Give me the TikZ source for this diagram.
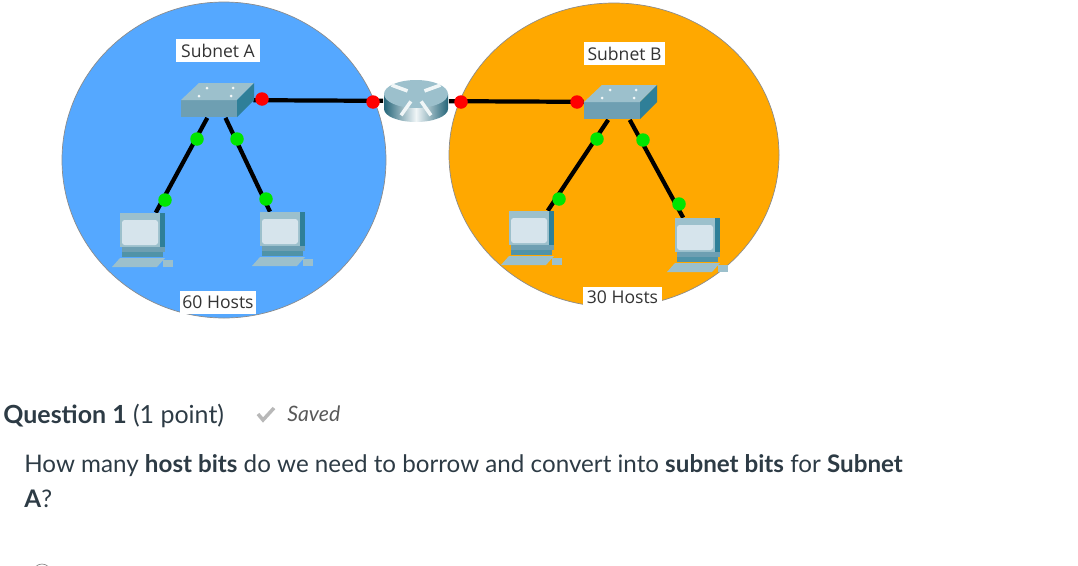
\documentclass[tikz,border=0pt]{standalone}
\usepackage{fontspec}
\setmainfont{Lato}
\newfontfamily\labelfont{Open Sans}
\usetikzlibrary{positioning}
\definecolor{subnetblue}{HTML}{55A8FF}
\definecolor{subnetorange}{HTML}{FFA800}
\definecolor{devtop}{HTML}{9CC0CC}
\definecolor{devfront}{HTML}{6E9FB2}
\definecolor{devside}{HTML}{2F7F98}
\definecolor{devscreen}{HTML}{D6E4EC}
\definecolor{txtdark}{HTML}{2D3B45}
\tikzset{
  subnet/.style={draw=black!45,line width=0.4pt},
  link/.style={draw=black,line width=2.4pt},
  reddot/.style={circle,fill=red,inner sep=0pt,minimum size=0.27cm},
  greendot/.style={circle,fill=green!90!black,inner sep=0pt,minimum size=0.27cm},
  labelbox/.style={fill=white,inner sep=0pt,text=black!80,font=\labelfont\fontsize{10}{12}\selectfont},
  switchnode/.style={inner sep=0pt,minimum width=1.44cm,minimum height=0.7cm},
  routernode/.style={inner sep=0pt,minimum width=1.3cm,minimum height=0.86cm},
  pcnode/.style={inner sep=0pt,minimum width=0.9cm,minimum height=1cm},
  question/.style={anchor=base west,inner sep=0pt,text=txtdark,font=\fontsize{13.77}{16}\selectfont},
  switchicon/.pic={
    \fill[devfront] (-36,0) rectangle (20,17);
    \fill[devtop] (-36,0) -- (-18,-17) -- (37,-17) -- (20,0) -- cycle;
    \fill[devside] (20,0) -- (37,-17) -- (37,0) -- (20,17) -- cycle;
    \foreach \px/\py in {-10/-12,16/-12,-18/-4,14/-4}
      \fill[white!90!devtop] (\px,\py) circle (1.5);
  },
  routericon/.pic={
    \shade[left color=devside!80!black,right color=devside!80!black,middle color=white!85!devtop]
      (-32,-7) -- (-32,8) arc[start angle=180,end angle=0,x radius=32,y radius=13] -- (32,-7) -- cycle;
    \fill[devtop] (0,-7) ellipse[x radius=32,y radius=14];
    \foreach \ang in {20,160,235,305}
      \draw[white!85!devtop,line width=2pt,rotate around={\ang:(0,-7)}] (9,-7) -- (26,-7);
  },
  pcicon/.pic={
    \fill[devside] (-22,-25) rectangle (23,9);
    \fill[devtop] (-22,-25) rectangle (18,9);
    \fill[devscreen,rounded corners=1.5] (-20,-18) rectangle (16,7);
    \fill[devfront] (-20,9) rectangle (23,14);
    \fill[devside!70!devtop] (-20,14) rectangle (21,19);
    \fill[devtop] (-30,29) -- (-22,20) -- (23,20) -- (15,29) -- cycle;
    \fill[devtop] (21,22) rectangle (31,29);
  }
}
\begin{document}
\begin{tikzpicture}[x=0.02cm,y=-0.02cm]
  \useasboundingbox (0,0) rectangle (1078,565);
  \clip (0,0) rectangle (1078,565);
  % subnets
  \fill[subnet,fill=subnetblue] (224,160) ellipse[x radius=162,y radius=158];
  \fill[subnet,fill=subnetorange] (614,155) ellipse[x radius=165,y radius=152];
  % devices
  \node[switchnode] (swA) at (217,100) {};
  \node[switchnode] (swB) at (620,102) {};
  \node[routernode] (router) at (416,101) {};
  \node[pcnode] (pcA1) at (142,238) {};
  \node[pcnode] (pcA2) at (282,237) {};
  \node[pcnode] (pcB1) at (531,236) {};
  \node[pcnode] (pcB2) at (697,243) {};
  % links
  \draw[link] (swA) -- (router);
  \draw[link] (router) -- (swB);
  \draw[link] (swA) -- (pcA1);
  \draw[link] (swA) -- (pcA2);
  \draw[link] (swB) -- (pcB1);
  \draw[link] (swB) -- (pcB2);
  \pic at (swA) {switchicon};
  \pic at (swB) {switchicon};
  \pic at (router) {routericon};
  \pic at (pcA1) {pcicon};
  \pic at (pcA2) {pcicon};
  \pic at (pcB1) {pcicon};
  \pic at (pcB2) {pcicon};
  % ports
  \node[reddot] (portA) at (262,99) {};
  \node[reddot] (portRA) at (373,102) {};
  \node[reddot] (portRB) at (461,102) {};
  \node[reddot] (portB) at (577,102) {};
  \node[greendot] (portA1) at (197,139) {};
  \node[greendot] (portA2) at (237,139) {};
  \node[greendot] (portA3) at (165,200) {};
  \node[greendot] (portA4) at (266,199) {};
  \node[greendot] (portB1) at (597,139) {};
  \node[greendot] (portB2) at (643,140) {};
  \node[greendot] (portB3) at (559,199) {};
  \node[greendot] (portB4) at (679,204) {};
  % labels
  \node[labelbox,minimum width=1.68cm,minimum height=0.46cm] (lblA) at (218,50.5) {Subnet A};
  \node[labelbox,minimum width=1.62cm,minimum height=0.46cm] (lblB) at (624.5,53.5) {Subnet B};
  \node[labelbox,minimum width=1.52cm,minimum height=0.46cm] (hostA) at (218,302.5) {60 Hosts};
  \node[labelbox,minimum width=1.58cm,minimum height=0.42cm] (hostB) at (622.5,297) {30 Hosts};
  % question
  \node[question] (qhead) at (3,423) {\fontsize{14.2}{16}\selectfont\textbf{Question 1} (1 point)};
  \draw[black!28,line width=2pt] (258,414) -- (263,420) -- (274,408);
  \node[question,text=black!65,font=\fontsize{12.1}{14}\selectfont\itshape] (saved) at (287,421) {Saved};
  \node[question] (qline) at (24,472) {How many \textbf{host bits} do we need to borrow and convert into \textbf{subnet bits} for \textbf{Subnet}};
  \node[question] (qlinetwo) at (24,507) {\textbf{A}?};
  \node[circle,draw=black!45,line width=0.4pt,inner sep=0pt,minimum size=0.36cm] (radio) at (42,573) {};
\end{tikzpicture}
\end{document}
